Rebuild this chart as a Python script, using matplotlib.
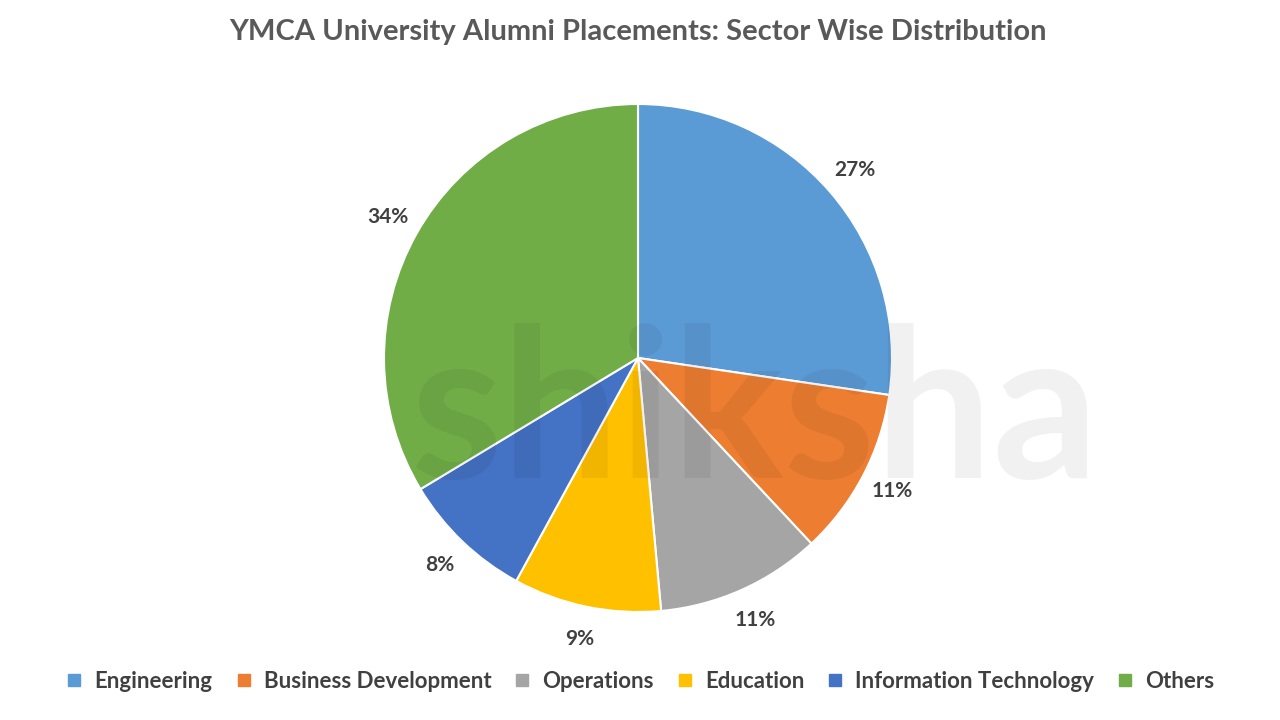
import matplotlib
matplotlib.use("Agg")
import matplotlib.pyplot as plt
from matplotlib.lines import Line2D

plt.rcParams["font.family"] = ["Lato", "DejaVu Sans"]

sectors = ["Engineering", "Business Development", "Operations", "Education",
           "Information Technology", "Others"]
shares = [27.3, 10.7, 10.5, 9.4, 8.4, 33.6]
pct_labels = ["27%", "11%", "11%", "9%", "8%", "34%"]
colors = ["#5B9BD5", "#ED7D31", "#A5A5A5", "#FFC000", "#4472C4", "#70AD47"]

fig = plt.figure(figsize=(12.8, 7.2), dpi=100)
fig.patch.set_facecolor("white")

# pie centred at (638, 358) px, radius 254 px
cx, cy, r = 638, 358, 254
ax = fig.add_axes([(cx - r) / 1280, (720 - cy - r) / 720, 2 * r / 1280, 2 * r / 720])

wedges, texts = ax.pie(
    shares, colors=colors, startangle=90, counterclock=False,
    labels=pct_labels, labeldistance=1.13,
    wedgeprops=dict(edgecolor="white", linewidth=1.5),
    textprops=dict(fontsize=15, fontweight="bold", color="#404040"),
)
for t in texts:
    t.set_horizontalalignment("center")
    t.set_verticalalignment("center")
ax.set_xlim(-1, 1)
ax.set_ylim(-1, 1)
ax.set_aspect("equal")
ax.axis("off")

# faint watermark
fig.text(0.59, 0.42, "shiksha", fontsize=150, fontweight="bold", color="black",
         alpha=0.055, ha="center", va="center", zorder=10)

fig.text(0.498, 0.956, "YMCA University Alumni Placements: Sector Wise Distribution",
         ha="center", va="center", fontsize=21, fontweight="bold", color="#595959")

handles = [Line2D([0], [0], marker="s", linestyle="none", markersize=9,
                  markerfacecolor=c, markeredgecolor=c) for c in colors]
fig.legend(handles, sectors, loc="center", bbox_to_anchor=(0.5, 0.054), ncol=6,
           frameon=False, handlelength=0.8, handletextpad=0.5, columnspacing=1.0,
           labelcolor="#404040", prop=dict(weight="bold", size=16))

fig.savefig("out.png", dpi=100)
